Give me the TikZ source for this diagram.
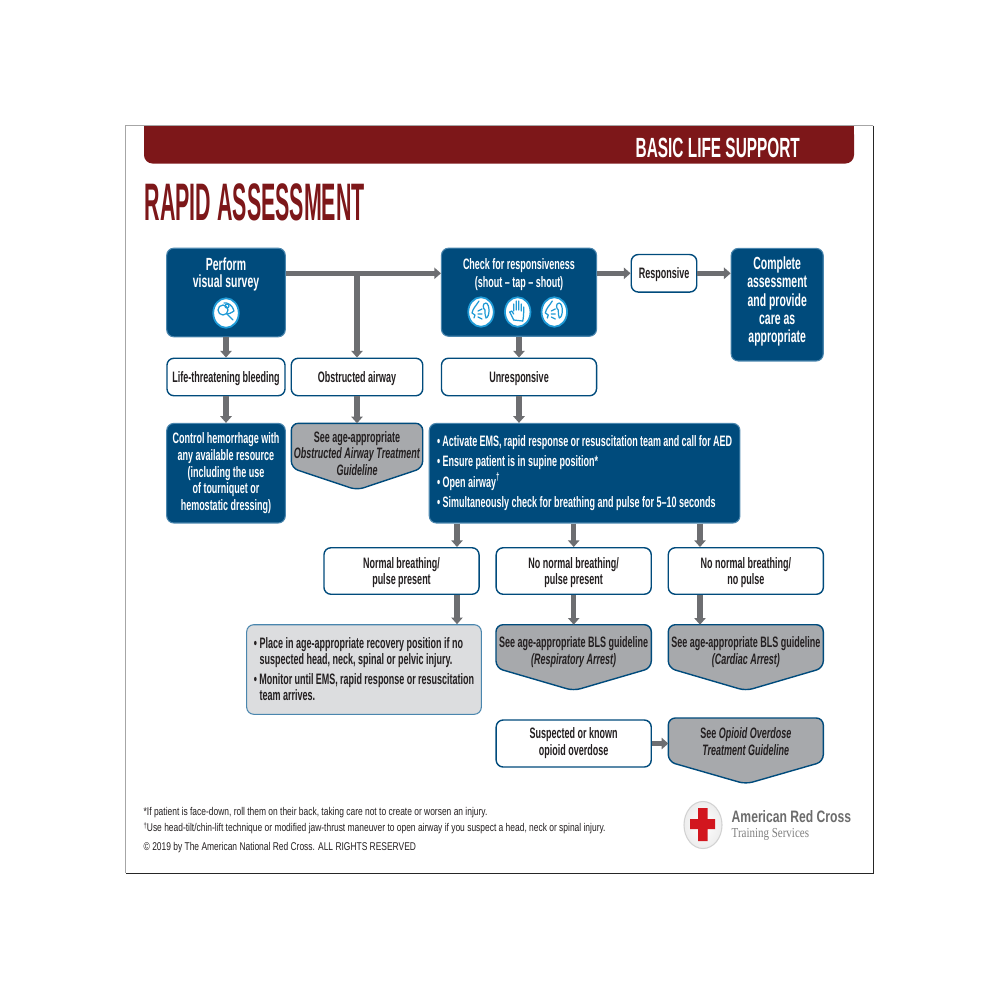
\documentclass[tikz,border=0pt]{standalone}
\usepackage{fontspec}
\setmainfont[FakeStretch=0.595]{Liberation Sans}
\newfontfamily\titlefont[FakeStretch=0.406]{Liberation Sans}
\newfontfamily\bandfont[FakeStretch=0.554]{Liberation Sans}
\newfontfamily\notefont[FakeStretch=0.75]{Liberation Sans}
\newfontfamily\logofont[FakeStretch=0.734]{Liberation Sans}
\newfontfamily\logoserif[FakeStretch=0.8]{Liberation Serif}
\usetikzlibrary{arrows.meta, calc, shapes.geometric}
\definecolor{crossmaroon}{HTML}{7D1719}
\definecolor{crossnavy}{HTML}{004B7C}
\definecolor{crossedge}{HTML}{4A86AE}
\definecolor{flowgray}{HTML}{6D6E71}
\definecolor{guidegray}{HTML}{A7A9AC}
\definecolor{notegray}{HTML}{DCDDDF}
\definecolor{bodyink}{HTML}{231F20}
\definecolor{iconblue}{HTML}{1F9AD6}
\definecolor{logored}{HTML}{D2161E}
\tikzset{
	navybox/.style={rectangle, draw=crossedge, line width=0.3pt, rounded corners=2pt,
		fill=crossnavy, text=white, align=center, inner sep=0pt,
		font=\fontsize{4.3}{5.1}\selectfont\bfseries},
	whitebox/.style={rectangle, draw=crossnavy, line width=0.4pt, rounded corners=2pt,
		fill=white, text=bodyink, align=center, inner sep=0pt, text depth=0pt,
		font=\fontsize{4.3}{4.75}\selectfont\bfseries},
	guideline/.style={draw=crossnavy, line width=0.4pt, rounded corners=2pt, fill=guidegray},
	guidetext/.style={text=bodyink, align=center, inner sep=0pt,
		font=\fontsize{4.3}{4.75}\selectfont\bfseries},
	flowarr/.style={-{Triangle[length=1.9pt, width=3.2pt]}, line width=1.55pt, draw=flowgray},
	footnote/.style={anchor=base west, inner sep=0pt, text=bodyink,
		font=\notefont\fontsize{3.2}{3.6}\selectfont},
	iconring/.style={ellipse, draw=iconblue, line width=0.5pt, fill=white, inner sep=0pt,
		minimum width=0.255cm, minimum height=0.295cm},
	icondraw/.style={draw=iconblue, line width=0.35pt, line cap=round, line join=round}
}
\newcommand{\guidebox}[8]{% name, left, right, top, shoulder, tip, text y, text
	\draw[guideline] ({(#2+#3)/2},#6) -- (#2,#5) -- (#2,#4) -- (#3,#4) -- (#3,#5) -- cycle;
	\coordinate (#1top) at ({(#2+#3)/2},#4);
	\node[guidetext] (#1) at ({(#2+#3)/2},#7) {#8};
}
\newcommand{\shoutglyph}{%
	\draw[icondraw] (-2,-11) .. controls (-5,-6) and (-8,-4) .. (-9,1) -- (-6,3) -- (-7,6);
	\draw[icondraw] (-3,-1) -- (1,-3) (-3,2) -- (1,2) (-3,5) -- (1,7);
	\draw[icondraw] (5,-9) .. controls (1,-9) and (2,-3) .. (4,-2) .. controls (5,1) and (3,4) .. (5,6) .. controls (9,5) and (9,-8) .. (5,-9);
}
\begin{document}
\begin{tikzpicture}[x=0.01cm, y=-0.01cm]
	\useasboundingbox (0,0) rectangle (1000,1000);
	\fill[white] (0,0) rectangle (1000,1000);
	% sheet edge
	\draw[gray!70, line width=0.35pt] (125.5,873) -- (125.5,125.5) -- (873,125.5);
	\draw[gray!30!black, line width=0.5pt] (873.5,125.5) -- (873.5,873.5) -- (125.5,873.5);
	% header
	\fill[crossmaroon, rounded corners=2.4pt] (144,126) -- (144,163.5) -- (854,163.5) -- (854,126) -- cycle;
	\fill[crossmaroon] (144,126) rectangle (854,136);
	\node[anchor=base west, inner sep=0pt, text=white, font=\bandfont\fontsize{7.9}{8}\selectfont\bfseries] (band) at (635,157) {BASIC LIFE SUPPORT};
	\node[anchor=base west, inner sep=0pt, text=crossmaroon, font=\titlefont\fontsize{15}{16}\selectfont\bfseries] (title) at (144,220.5) {RAPID ASSESSMENT};

	% top row
	\node[navybox, minimum width=1.185cm, minimum height=0.885cm] (perform) at (226,292.5) {\fontsize{5}{5.1}\selectfont Perform\\[-0.2pt]\fontsize{5}{5.1}\selectfont visual survey\\[6pt]~};
	\node[navybox, minimum width=1.55cm, minimum height=0.88cm] (check) at (519,292.2) {Check for responsiveness\\(shout -- tap -- shout)\\[5.8pt]~};
	\node[whitebox, minimum width=0.655cm, minimum height=0.375cm] (responsive) at (664,273.3) {Responsive};
	\node[navybox, minimum width=0.92cm, minimum height=1.125cm, font=\fontsize{5}{5.15}\selectfont\bfseries] (complete) at (777.2,304.7) {Complete\\assessment\\and provide\\care as\\appropriate\\[-2.3pt]~};

	% icons
	\node[iconring] (eyeicon) at (226,313) {};
	\node[iconring] (shoutone) at (481,312) {};
	\node[iconring] (tapicon) at (517.7,312) {};
	\node[iconring] (shouttwo) at (554.3,312) {};
	\begin{scope}[shift={(eyeicon.center)}]
		\draw[icondraw] (-1,-1) -- (7,7);
		\draw[icondraw, fill=white] (-3,-3) circle (5);
		\draw[icondraw] (-2,-10) .. controls (2,-11) and (7,-7) .. (8,-2) .. controls (5,0) and (3,1) .. (1,1);
		\draw[icondraw] (1,-7) circle (2);
	\end{scope}
	\begin{scope}[shift={(shoutone.center)}]
		\shoutglyph
	\end{scope}
	\begin{scope}[shift={(shouttwo.center)}]
		\shoutglyph
	\end{scope}
	\begin{scope}[shift={(tapicon.center)}]
		\draw[icondraw] (-4,8) -- (-8,0) (-4,-1) -- (-4,-8) (-1.5,-2) -- (-1.5,-11) (1,-2) -- (1,-11) (3.5,-1) -- (3.5,-8) (5,9) .. controls (6,5) and (6,1) .. (6,-5);
		\draw[icondraw] (-4,8) -- (5,9);
		\draw[icondraw] (-8,0) -- (-6,-1) -- (-4,2);
	\end{scope}

	% second row
	\node[whitebox, minimum width=1.18cm, minimum height=0.375cm] (bleeding) at (226,377) {Life-threatening bleeding};
	\node[whitebox, minimum width=1.315cm, minimum height=0.375cm] (obstructed) at (357,377) {Obstructed airway};
	\node[whitebox, minimum width=1.55cm, minimum height=0.375cm] (unresponsive) at (519,377) {Unresponsive};

	% third row
	\node[navybox, minimum width=1.185cm, minimum height=0.995cm, font=\fontsize{4.3}{4.72}\selectfont\bfseries] (control) at (226,473.2) {Control hemorrhage with\\any available resource\\(including the use\\of tourniquet or\\hemostatic dressing)};
	\guidebox{obstrguide}{291.3}{422.7}{423.3}{468}{490}{453.5}{See age-appropriate\\\textit{Obstructed Airway Treatment}\\\textit{Guideline}}
	\node[navybox, minimum width=3.105cm, minimum height=0.995cm, align=flush left, text width=2.95cm] (activate) at (584.6,473.2) {%
		\textbullet\ Activate EMS, rapid response or resuscitation team and call for AED\\[0.7pt]
		\textbullet\ Ensure patient is in supine position*\\[0.7pt]
		\textbullet\ Open airway\textsuperscript{\textdagger}\\[0.7pt]
		\textbullet\ Simultaneously check for breathing and pulse for 5--10 seconds};

	% breathing outcomes
	\node[whitebox, minimum width=1.55cm, minimum height=0.465cm] (normal) at (401.5,571) {Normal breathing/\\pulse present};
	\node[whitebox, minimum width=1.55cm, minimum height=0.465cm] (nobreath) at (573.7,571) {No normal breathing/\\pulse present};
	\node[whitebox, minimum width=1.55cm, minimum height=0.465cm] (nopulse) at (745.8,571) {No normal breathing/\\no pulse};

	% results
	\node[navybox, fill=notegray, text=bodyink, minimum width=2.345cm, minimum height=0.895cm, align=flush left, text width=2.2cm, font=\fontsize{4.3}{4.55}\selectfont\bfseries] (recovery) at (364,669.5) {%
		\textbullet\ Place in age-appropriate recovery position if no\\
		\hphantom{\textbullet\ }suspected head, neck, spinal or pelvic injury.\\[1.1pt]
		\textbullet\ Monitor until EMS, rapid response or resuscitation\\
		\hphantom{\textbullet\ }team arrives.};
	\guidebox{respguide}{496}{651.3}{624.7}{668}{690.7}{652.3}{See age-appropriate BLS guideline\\\textit{(Respiratory Arrest)}}
	\guidebox{cardguide}{668.3}{823.3}{624.7}{668}{690.7}{652.3}{See age-appropriate BLS guideline\\\textit{(Cardiac Arrest)}}
	\node[whitebox, minimum width=1.55cm, minimum height=0.47cm] (suspected) at (573.7,743.5) {Suspected or known\\opioid overdose\\[-3.6pt]~};
	\guidebox{opioidguide}{668.3}{823.3}{718}{761.7}{784}{741.85}{See \textit{Opioid Overdose}\\\textit{Treatment Guideline}}

	% connectors
	\draw[flowarr] (perform.east |- responsive) -- (check.west |- responsive);
	\draw[flowarr] (check.east |- responsive) -- (responsive);
	\draw[flowarr] (responsive) -- (complete.west |- responsive);
	\draw[flowarr] (obstructed.north |- responsive) -- (obstructed);
	\foreach \a/\b in {perform/bleeding, bleeding/control, check/unresponsive, unresponsive/activate}
		\draw[flowarr] (\a.south) -- (\a.south |- \b.north);
	\draw[flowarr] (obstructed) -- (obstrguidetop);
	\foreach \a/\b/\x in {activate/normal.north/457, normal/recovery.north/457, activate/nobreath.north/573.7, nobreath/respguidetop/573.7, activate/nopulse.north/700, nopulse/cardguidetop/700}
		\draw[flowarr] (\x,0 |- \a.south) -- (\x,0 |- \b);
	\draw[flowarr] (suspected) -- (668.3,0 |- suspected);

	% footer
	\node[footnote] (noteone) at (143,815) {*If patient is face-down, roll them on their back, taking care not to create or worsen an injury.};
	\node[footnote] (notetwo) at (143,831) {\raisebox{0.7pt}{\fontsize{2.2}{2.5}\selectfont\textdagger}Use head-tilt/chin-lift technique or modified jaw-thrust maneuver to open airway if you suspect a head, neck or spinal injury.};
	\node[footnote] (copyright) at (143,850) {\textcopyright\ 2019 by The American National Red Cross. ALL RIGHTS RESERVED};

	% logo
	\node[ellipse, draw=gray!35, line width=0.3pt, inner color=white, outer color=gray!14, minimum width=0.38cm, minimum height=0.47cm, inner sep=0pt] (logodisc) at (703,825) {};
	\fill[logored] (698,808) rectangle (707.5,841) (690,819) rectangle (715,829);
	\node[anchor=base west, inner sep=0pt, text=gray!85!black, font=\logofont\fontsize{4.7}{5}\selectfont\bfseries] (logoname) at (731,822) {American Red Cross};
	\node[anchor=base west, inner sep=0pt, text=gray, font=\logoserif\fontsize{3.9}{4}\selectfont] (logosub) at (731,837) {Training Services};
\end{tikzpicture}
\end{document}
